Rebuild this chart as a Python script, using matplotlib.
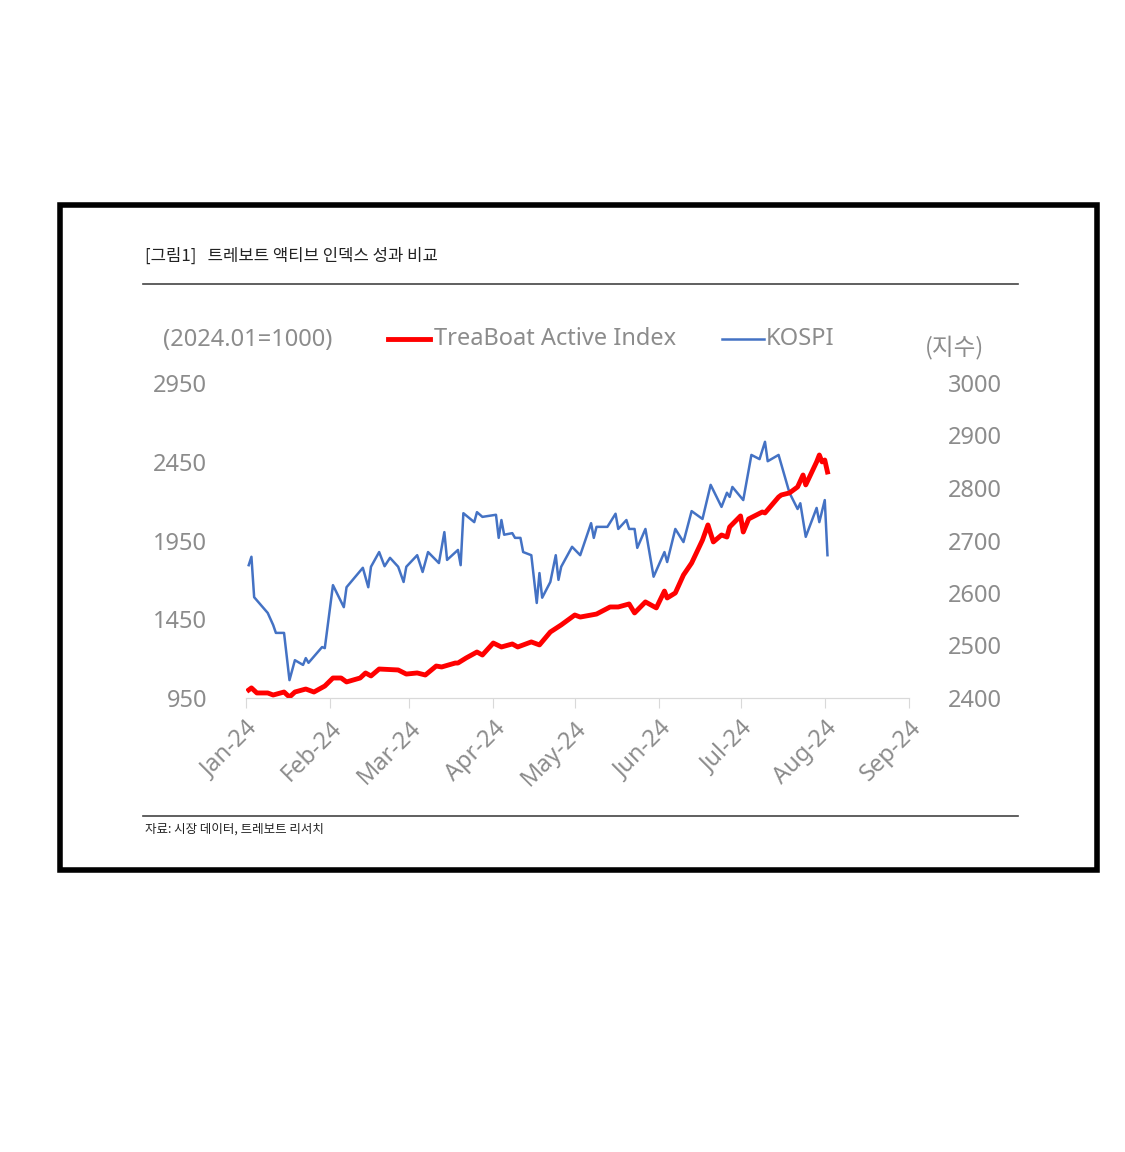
import matplotlib
matplotlib.use("Agg")
import matplotlib.pyplot as plt
import matplotlib.dates as mdates
from matplotlib.lines import Line2D
from matplotlib.patches import Rectangle
import pandas as pd

plt.rcParams['font.family'] = ['Noto Sans', 'Noto Sans CJK KR', 'DejaVu Sans']

kospi_dates = ["01-02","01-03","01-04","01-09","01-11","01-12","01-15","01-17","01-19","01-22","01-23","01-24","01-29","01-30",
"02-02","02-06","02-07","02-13","02-15","02-16","02-19","02-21","02-23","02-26","02-28","02-29",
"03-04","03-06","03-08","03-12","03-14","03-15","03-19","03-20","03-21","03-25","03-26","03-28",
"04-02","04-03","04-04","04-05","04-08","04-09","04-11","04-12","04-15","04-17","04-18","04-19","04-22","04-24","04-25","04-26","04-30",
"05-03","05-07","05-08","05-09","05-13","05-16","05-17","05-20","05-21","05-23","05-24","05-27","05-30",
"06-03","06-04","06-07","06-10","06-13","06-17","06-20","06-24","06-26","06-27","06-28",
"07-02","07-05","07-08","07-10","07-11","07-15","07-19","07-22","07-23","07-25","07-29","07-30","08-01","08-02"]
kospi_vals = [2653,2669,2592,2562,2539,2524,2524,2434,2472,2463,2476,2467,2497,2495,
2615,2573,2611,2648,2611,2650,2678,2651,2667,2650,2621,2650,
2672,2640,2678,2657,2716,2663,2682,2653,2752,2735,2754,2745,
2749,2705,2739,2711,2714,2705,2705,2678,2672,2581,2638,2591,2621,2672,2625,2650,2688,
2672,2733,2705,2726,2726,2751,2722,2739,2722,2722,2686,2722,2631,
2678,2659,2722,2697,2756,2741,2806,2764,2791,2783,2802,
2777,2863,2855,2888,2851,2863,2791,2760,2771,2707,2762,2735,2777,2672]

tb_dates = ["01-02","01-03","01-05","01-09","01-11","01-15","01-17","01-19","01-23","01-26","01-30",
"02-02","02-05","02-07","02-12","02-14","02-16","02-19","02-26","02-29",
"03-04","03-07","03-11","03-13","03-18","03-19","03-22","03-26","03-28",
"04-01","04-04","04-08","04-10","04-15","04-18","04-22","04-26",
"05-01","05-03","05-09","05-14","05-17","05-21","05-23","05-27","05-31",
"06-03","06-04","06-07","06-10","06-13","06-17","06-19","06-21","06-24","06-26","06-27",
"07-01","07-02","07-04","07-09","07-10","07-15","07-16","07-19","07-22","07-24","07-25","07-29","07-30","07-31","08-01","08-02"]
tb_vals = [1001,1014,982,982,969,988,956,988,1007,988,1026,
1077,1077,1052,1077,1109,1090,1134,1128,1102,
1109,1096,1153,1147,1172,1172,1204,1242,1223,
1299,1274,1293,1274,1306,1287,1369,1414,
1477,1464,1483,1528,1528,1547,1490,1560,1522,
1629,1585,1617,1731,1807,1953,2049,1941,1985,1972,2036,
2106,2004,2087,2131,2125,2226,2239,2252,2290,2366,2303,2449,2493,2449,2461,2385]

month_ticks = ["2024-01-01","2024-02-01","2024-03-01","2024-04-01","2024-05-01","2024-06-01","2024-07-01","2024-08-01","2024-09-01"]
month_labels = ["Jan-24","Feb-24","Mar-24","Apr-24","May-24","Jun-24","Jul-24","Aug-24","Sep-24"]

kd = pd.to_datetime(["2024-" + d for d in kospi_dates])
td = pd.to_datetime(["2024-" + d for d in tb_dates])
mt = pd.to_datetime(month_ticks)

W, H = 1125, 1152
fig = plt.figure(figsize=(W/100, H/100), dpi=100)
fig.add_artist(Rectangle((60/W, 1-870/H), 1037/W, 665/H, transform=fig.transFigure,
                         fill=False, lw=4, ec='black'))
fig.text(145/W, 1-256/H, "[그림1]   트레보트 액티브 인덱스 성과 비교", fontsize=12,
         family=['Noto Sans CJK KR'], va='center', color='#222222')
fig.add_artist(Line2D([143/W, 1018/W], [1-284/H, 1-284/H], color='#444444', lw=1.2))
fig.add_artist(Line2D([143/W, 1018/W], [1-816/H, 1-816/H], color='#444444', lw=1.2))
fig.text(145/W, 1-829/H, "자료: 시장 데이터, 트레보트 리서치", fontsize=9,
         family=['Noto Sans CJK KR'], va='center', color='#222222')

grey = '#8c8c8c'
ax = fig.add_axes([246/W, 1-698/H, 663/W, 315/H])
ax2 = ax.twinx()
ax2.plot(kd, kospi_vals, color='#4472C4', lw=1.8)
ax.plot(td, tb_vals, color='#FF0000', lw=3.5)
ax.set_zorder(ax2.get_zorder() + 1)
ax.patch.set_visible(False)

ax.set_xlim(mt[0], mt[-1])
ax.set_ylim(950, 2950)
ax2.set_ylim(2400, 3000)
ax.set_yticks([950, 1450, 1950, 2450, 2950])
ax2.set_yticks([2400, 2500, 2600, 2700, 2800, 2900, 3000])
ax.set_xticks(mt)
ax.set_xticklabels(month_labels, rotation=45, ha='right', rotation_mode='anchor')
for a in (ax, ax2):
    for s in ['top', 'left', 'right']:
        a.spines[s].set_visible(False)
    a.spines['bottom'].set_color('#d9d9d9')
    a.tick_params(axis='y', length=0, labelsize=17, labelcolor=grey, pad=28)
ax.tick_params(axis='x', length=7, color='#d9d9d9', labelsize=17, labelcolor=grey, pad=6)

fig.text(163/W, 1-340/H, "(2024.01=1000)", fontsize=17, color=grey, va='center')
fig.text(925/W, 1-347/H, "(지수)", fontsize=17, color=grey, va='center', family=['Noto Sans CJK KR'])
fig.add_artist(Line2D([388/W, 430/W], [1-339/H, 1-339/H], color='#FF0000', lw=3.5))
fig.text(434/W, 1-339/H, "TreaBoat Active Index", fontsize=17, color=grey, va='center')
fig.add_artist(Line2D([722/W, 764/W], [1-339/H, 1-339/H], color='#4472C4', lw=1.8))
fig.text(766/W, 1-339/H, "KOSPI", fontsize=17, color=grey, va='center')

fig.savefig("out.png", dpi=100, facecolor='white')
